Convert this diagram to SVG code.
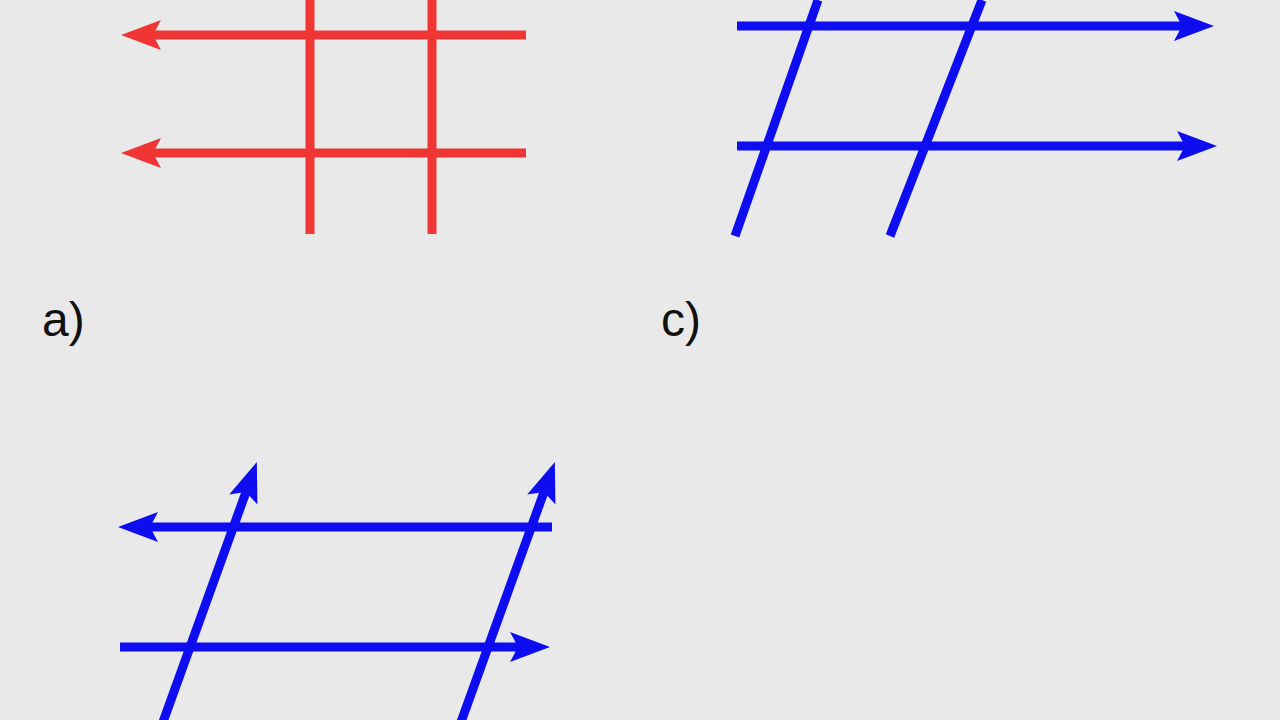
<svg xmlns="http://www.w3.org/2000/svg" width="1280" height="720" viewBox="0 0 1280 720">
<style>
.r{stroke:#f03535;stroke-width:9;fill:none}
.b{stroke:#0d0df0;stroke-width:9;fill:none}
.lbl{font-family:"Liberation Sans",Arial,sans-serif;font-size:48px;fill:#111}
</style>
<defs>
<marker id="ar" markerUnits="userSpaceOnUse" orient="auto" refX="0" refY="0" markerWidth="60" markerHeight="40" overflow="visible">
<path d="M-8,-15 L32,0 L-8,15 L0,0 Z" fill="#f03535"/>
</marker>
<marker id="ab" markerUnits="userSpaceOnUse" orient="auto" refX="0" refY="0" markerWidth="60" markerHeight="40" overflow="visible">
<path d="M-8,-15 L32,0 L-8,15 L0,0 Z" fill="#0d0df0"/>
</marker>
</defs>
<rect width="1280" height="720" fill="#e9e9e9"/>
<g id="connectors">
<g id="panel-a">
<line class="r" x1="310" y1="0" x2="310" y2="234"/>
<line class="r" x1="432" y1="0" x2="432" y2="234"/>
<line class="r" x1="526" y1="35" x2="153" y2="35" marker-end="url(#ar)"/>
<line class="r" x1="526" y1="153" x2="153" y2="153" marker-end="url(#ar)"/>
</g>
<g id="panel-c">
<line class="b" x1="818" y1="0" x2="735" y2="236"/>
<line class="b" x1="982" y1="0" x2="890" y2="236"/>
<line class="b" x1="737" y1="26" x2="1182" y2="26" marker-end="url(#ab)"/>
<line class="b" x1="737" y1="146" x2="1185" y2="146" marker-end="url(#ab)"/>
</g>
<g id="panel-b">
<line class="b" x1="552" y1="527" x2="150" y2="527" marker-end="url(#ab)"/>
<line class="b" x1="120" y1="647" x2="518" y2="647" marker-end="url(#ab)"/>
<line class="b" x1="163" y1="722" x2="246" y2="492" marker-end="url(#ab)"/>
<line class="b" x1="461" y1="722" x2="544" y2="492" marker-end="url(#ab)"/>
</g>
</g>
<g id="labels">
<text class="lbl" x="42" y="336">a)</text>
<text class="lbl" x="661" y="336">c)</text>
</g>
</svg>
